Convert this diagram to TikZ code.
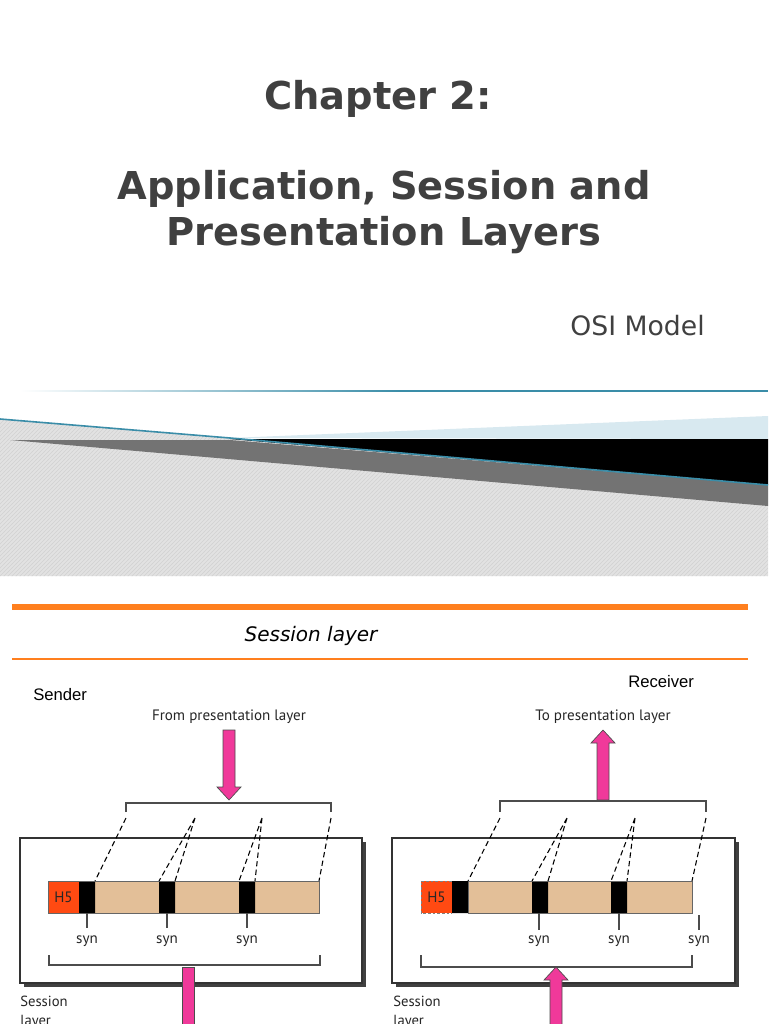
\documentclass[tikz,border=0pt]{standalone}
\usepackage{fontspec}
\setmainfont{DejaVu Sans}
\newfontfamily\figfont{PT Sans}
\newfontfamily\lib{Liberation Sans}
\usetikzlibrary{patterns}
\definecolor{titlegray}{HTML}{404040}
\definecolor{tealc}{HTML}{3A8DA8}
\definecolor{lblue}{HTML}{D8E9F0}
\definecolor{hatch}{HTML}{E2E2E2}
\definecolor{orangec}{HTML}{FF7F1E}
\definecolor{pinkarrow}{HTML}{F0399A}
\definecolor{tan}{HTML}{E3BF98}
\definecolor{hred}{HTML}{FF4A12}
\tikzset{
 title/.style={text=titlegray,font=\fontsize{28.8}{34.5}\selectfont\bfseries,align=center,inner sep=0},
 lbl/.style={font=\figfont\fontsize{11.3}{13}\selectfont,inner sep=0,text=black!85},
 slbl/.style={font=\lib\fontsize{12.5}{14}\selectfont,inner sep=0},
 brk/.style={line width=0.9pt,draw=black!70},
 dsh/.style={line width=0.8pt,dash pattern=on 4pt off 2.5pt},
 parrow/.style={fill=pinkarrow,draw=black!70,line width=0.5pt},
}
\begin{document}
\begin{tikzpicture}[x=0.75pt,y=-0.75pt]
\useasboundingbox (0,0) rectangle (768,1024);
\fill[white] (0,0) rectangle (768,1024);
% top slide
\node[title] (t1) at (378,99) {Chapter 2:};
\node[title] (t2) at (384,212) {Application, Session and\\Presentation Layers};
\node[text=titlegray,font=\fontsize{20}{24}\selectfont,anchor=east,inner sep=0] (osi) at (705,326) {OSI Model};
\shade[left color=white,right color=tealc] (20,390.3) rectangle (400,391.7);
\fill[tealc] (400,390.3) rectangle (768,391.7);
\fill[hatch] (0,419) -- (230,438) -- (768,485) -- (768,576) -- (0,576) -- cycle;
\fill[pattern=north east lines,pattern color=black!18] (0,419) -- (230,438) -- (768,485) -- (768,576) -- (0,576) -- cycle;
\fill[lblue] (230,438) -- (768,416) -- (768,439) -- cycle;
\fill[black!55] (10,440) -- (230,440) -- (768,485) -- (768,506) -- cycle;
\fill[black] (230,439) -- (768,439) -- (768,485) -- cycle;
\draw[tealc,line width=1.2pt] (0,419) -- (230,438) -- (768,485);
% bottom slide
\fill[orangec] (12,604) rectangle (748,610);
\draw[orangec,line width=0.8pt] (12,659) -- (748,659);
\node[font=\fontsize{15}{18}\selectfont\itshape,inner sep=0] (sl) at (311,636) {Session layer};
\node[slbl,anchor=west] (snd) at (33,695) {Sender};
\node[slbl,anchor=west] (rcv) at (628,682) {Receiver};
% ---- sender
\node[lbl] (from) at (229,717) {From presentation layer};
\draw[parrow] (223,730) -- (235,730) -- (235,787) -- (241,787) -- (229,800) -- (217,787) -- (223,787) -- cycle;
\draw[brk] (126,812) -- (126,803) -- (331,803) -- (331,812);
\fill[black!75] (24,842) rectangle (366,987);
\draw[black!80,fill=white,line width=0.8pt] (20,838) rectangle (362,983);
\fill[tan] (95,881) rectangle (319,913);
\fill[hred] (48,881) rectangle (79,913);
\fill[black] (79,881) rectangle (95,913) (159,881) rectangle (175,913) (239,881) rectangle (255,913);
\draw[black!60,line width=0.4pt] (48,881) rectangle (319,913);
\node[lbl] (h5a) at (63.5,897) {H5};
\draw[dsh] (126,818) -- (95,881);
\draw[dsh] (195,818) -- (159,881) (195,818) -- (175,881);
\draw[dsh] (262,818) -- (239,881) (262,818) -- (255,881);
\draw[dsh] (331,818) -- (319,881);
\foreach \x in {87,167,247}{\draw[brk] (\x,913) -- (\x,928); \node[lbl] at (\x,941) {syn};}
\draw[brk] (49,955) -- (49,965) -- (320,965) -- (320,955);
\draw[parrow] (182,967) -- (194,967) -- (194,1030) -- (182,1030) -- cycle;
\node[lbl,anchor=west,align=left,font=\figfont\fontsize{11}{14}\selectfont] (sla) at (20,1012) {Session\\layer};
% ---- receiver
\node[lbl] (to) at (603,717) {To presentation layer};
\draw[parrow] (597,800) -- (609,800) -- (609,743) -- (615,743) -- (603,730) -- (591,743) -- (597,743) -- cycle;
\draw[brk] (500,812) -- (500,801) -- (706,801) -- (706,812);
\fill[black!75] (396,842) rectangle (739,987);
\draw[black!80,fill=white,line width=0.8pt] (392,838) rectangle (735,983);
\fill[tan] (468,881) rectangle (692,913);
\fill[hred] (421,881) rectangle (452,913);
\draw[black!50,dash pattern=on 2pt off 1.5pt,line width=0.6pt] (452,881) -- (421,881) -- (421,913) -- (452,913);
\fill[black] (452,881) rectangle (468,913) (532,881) rectangle (548,913) (611,881) rectangle (627,913);
\draw[black!60,line width=0.4pt] (468,881) rectangle (692,913);
\node[lbl] (h5b) at (436.5,897) {H5};
\draw[dsh] (500,818) -- (468,881);
\draw[dsh] (567,818) -- (532,881) (567,818) -- (548,881);
\draw[dsh] (635,818) -- (611,881) (635,818) -- (627,881);
\draw[dsh] (706,818) -- (692,881);
\foreach \x/\s in {539/913,619/913,699/915}{\draw[brk] (\x,\s) -- (\x,930); \node[lbl] at (\x,941) {syn};}
\draw[brk] (421,955) -- (421,967) -- (692,967) -- (692,955);
\draw[parrow] (550,1030) -- (550,980) -- (544,980) -- (556,967) -- (568,980) -- (562,980) -- (562,1030) -- cycle;
\node[lbl,anchor=west,align=left,font=\figfont\fontsize{11}{14}\selectfont] (slb) at (393,1012) {Session\\layer};
\end{tikzpicture}
\end{document}
